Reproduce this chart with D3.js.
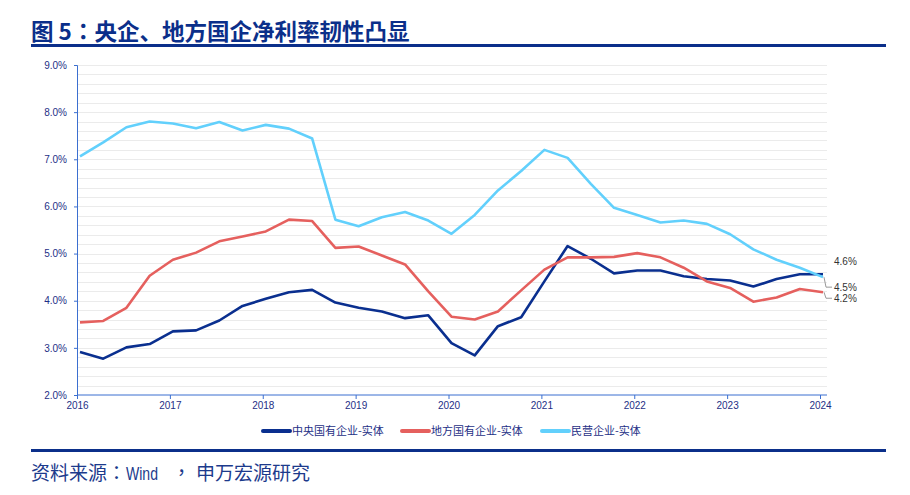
<!DOCTYPE html>
<html>
<head>
<meta charset="utf-8">
<script src="https://cdn.jsdelivr.net/npm/d3@7"></script>
<style>
  body { margin: 0; background: #fff; }
  svg { display: block; font-family: Arial, "Liberation Sans", "Noto Sans CJK SC", sans-serif; }
</style>
</head>
<body>
<div id="chart"></div>
<script>
const width = 910, height = 495;

// quarterly points, 2016Q1 .. 2024Q1
const startYear = 2016;
const years = [2016, 2017, 2018, 2019, 2020, 2021, 2022, 2023, 2024];
const yTicks = [2, 3, 4, 5, 6, 7, 8, 9];

const seriesNames = ["中央国有企业-实体", "地方国有企业-实体", "民营企业-实体"];

const central = [2.91, 2.77, 3.01, 3.08, 3.35, 3.37, 3.58, 3.89, 4.04, 4.18, 4.23,
  3.96, 3.85, 3.77, 3.63, 3.69, 3.10, 2.84, 3.46, 3.65, 4.41, 5.16, 4.89,
  4.58, 4.64, 4.64, 4.52, 4.46, 4.43, 4.30, 4.46, 4.56, 4.56];
const local = [3.54, 3.57, 3.85, 4.53, 4.87, 5.02, 5.26, 5.36, 5.47, 5.72, 5.69,
  5.12, 5.15, 4.96, 4.77, 4.20, 3.66, 3.60, 3.77, 4.22, 4.66, 4.92, 4.92,
  4.93, 5.01, 4.92, 4.70, 4.41, 4.27, 3.98, 4.07, 4.25, 4.18];
const privateCo = [7.06, 7.36, 7.68, 7.80, 7.76, 7.66, 7.79, 7.61, 7.73, 7.65, 7.44,
  5.72, 5.58, 5.77, 5.88, 5.70, 5.42, 5.82, 6.34, 6.75, 7.20, 7.03, 6.48,
  5.97, 5.82, 5.66, 5.70, 5.63, 5.41, 5.09, 4.87, 4.70, 4.50];

const colors = ["#0a2f8f", "#e5605e", "#62d0fc"];
const navy = "#0b2f8a";
const cjk = "'Noto Sans CJK SC', sans-serif";
const cjkTC = "'Noto Sans CJK TC', sans-serif"; // centred full-width punctuation

const svg = d3.select("#chart").append("svg")
    .attr("width", width)
    .attr("height", height);

// title + rules
const title = svg.append("text")
    .attr("x", 31).attr("y", 40)
    .attr("fill", navy)
    .attr("font-size", 22.5)
    .attr("font-weight", "bold")
    .attr("font-family", cjk);
title.append("tspan").text("图 5");
title.append("tspan").attr("font-family", cjkTC).text("：");
title.append("tspan").text("央企、地方国企净利率韧性凸显");

svg.append("rect").attr("x", 31).attr("y", 44).attr("width", 855).attr("height", 3).attr("fill", navy);
svg.append("rect").attr("x", 31).attr("y", 449).attr("width", 855).attr("height", 3).attr("fill", navy);

// source line, pieces placed like the original's spaced punctuation
const source = svg.append("text")
    .attr("y", 480)
    .attr("fill", "#1c3a8c")
    .attr("font-size", 19)
    .attr("font-family", cjk);
source.append("tspan").attr("x", 31).text("资料来源");
source.append("tspan").attr("x", 107).attr("font-family", cjkTC).text("：");
source.append("tspan").attr("x", 126)
    .attr("font-family", "'Liberation Sans Narrow', 'Arial Narrow', Arial, sans-serif")
    .attr("textLength", 32).attr("lengthAdjust", "spacingAndGlyphs")
    .text("Wind");
source.append("tspan").attr("x", 172).attr("font-family", cjkTC).text("，");
source.append("tspan").attr("x", 196).text("申万宏源研究");

// scales
const plot = { left: 77, right: 827, top: 65, bottom: 395 };
const x = d3.scaleLinear().domain([2016, 2024]).range([plot.left, 820]);
const y = d3.scaleLinear().domain([2, 9]).range([plot.bottom, plot.top]);
const xOf = i => x(startYear + i / 4) + 3;

// minor gridlines every 0.2%
svg.append("g")
    .selectAll("line")
    .data(d3.range(2.2, 9.01, 0.2))
    .enter().append("line")
    .attr("x1", plot.left).attr("x2", plot.right)
    .attr("y1", d => Math.round(y(d)) + 0.5)
    .attr("y2", d => Math.round(y(d)) + 0.5)
    .attr("stroke", "#ebebeb")
    .attr("stroke-width", 1);

// y axis
const yAxis = svg.append("g")
    .attr("transform", `translate(${plot.left},0)`)
    .call(d3.axisLeft(y).tickValues(yTicks).tickSize(3).tickPadding(7)
        .tickFormat(d => d3.format(".1f")(d) + "%"));
yAxis.select(".domain").attr("stroke", "#3b6fd0");
yAxis.selectAll(".tick line").attr("stroke", "#3b6fd0");
yAxis.selectAll("text").attr("fill", "#1e2f86").attr("font-size", 10);

// x axis
const xAxis = svg.append("g")
    .attr("transform", `translate(0,${plot.bottom})`)
    .call(d3.axisBottom(x).tickValues(years).tickSize(4).tickPadding(3).tickFormat(d3.format("d")));
xAxis.select(".domain").attr("d", `M${plot.left},0H${plot.right}`).attr("stroke", "#3b6fd0");
xAxis.selectAll(".tick line").attr("stroke", "#3b6fd0");
xAxis.selectAll("text").attr("fill", "#1e2f86").attr("font-size", 10);

// lines
const line = d3.line().x((d, i) => xOf(i)).y(d => y(d));
const allSeries = [central, local, privateCo];

svg.append("g")
    .selectAll("path")
    .data(allSeries)
    .enter().append("path")
    .attr("d", line)
    .attr("fill", "none")
    .attr("stroke", (d, i) => colors[i])
    .attr("stroke-width", 2.6)
    .attr("stroke-linejoin", "round");

// end labels (label offset from last point)
const labelDy = [-13, 6, 10];
const lastIdx = central.length - 1;
const labels = svg.append("g");
allSeries.forEach((s, i) => {
    const px = xOf(lastIdx), py = y(s[lastIdx]);
    const ly = py + labelDy[i];
    if (labelDy[i] > 0) {
        labels.append("path")
            .attr("d", `M${px + 1},${py}L${px + 3},${ly}H${px + 9}`)
            .attr("fill", "none")
            .attr("stroke", "#999")
            .attr("stroke-width", 1);
    }
    labels.append("text")
        .attr("x", px + 11).attr("y", ly)
        .attr("dy", "0.35em")
        .attr("fill", "#333")
        .attr("font-size", 10)
        .text(d3.format(".1f")(s[lastIdx]) + "%");
});

// legend
const legendX = [263, 402, 542];
const legend = svg.append("g").attr("transform", "translate(0,431)");
seriesNames.forEach((name, i) => {
    legend.append("line")
        .attr("x1", legendX[i]).attr("x2", legendX[i] + 27)
        .attr("y1", 0).attr("y2", 0)
        .attr("stroke", colors[i])
        .attr("stroke-width", 4)
        .attr("stroke-linecap", "round");
    legend.append("text")
        .attr("x", legendX[i] + 29).attr("y", 0)
        .attr("dy", "0.35em")
        .attr("fill", "#1e2f86")
        .attr("font-size", 11)
        .attr("font-family", cjk)
        .text(name);
});
</script>
</body>
</html>
